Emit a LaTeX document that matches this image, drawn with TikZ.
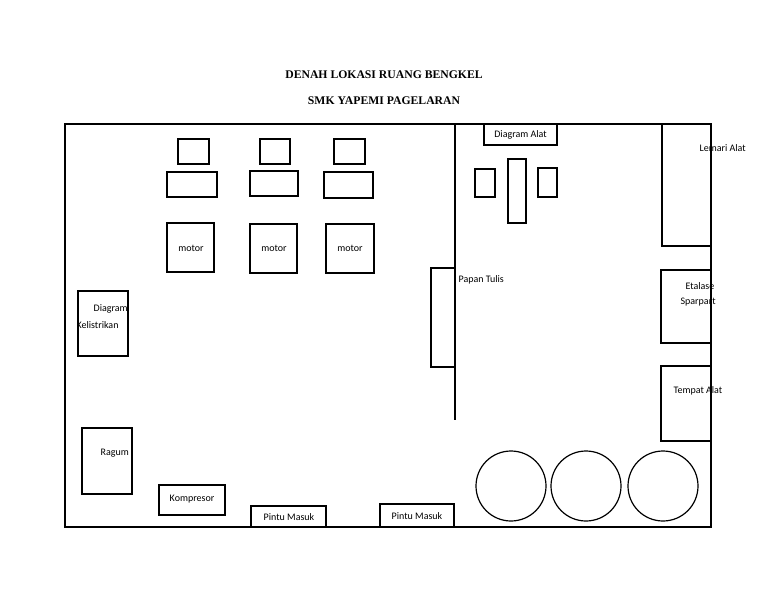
\documentclass[tikz,border=0pt]{standalone}
\usepackage{fontspec}
\setmainfont{Carlito}
\newfontfamily\titlefont{Liberation Serif}
\begin{document}
\begin{tikzpicture}[x=1pt,y=-1pt,line width=1.2pt,
  box/.style={draw,black},
  lbl/.style={font=\fontsize{10}{12}\selectfont,inner sep=0pt}]
\useasboundingbox (0,0) rectangle (768,594);
\node[font=\titlefont\bfseries\fontsize{11.7}{14}\selectfont] (t1) at (384,75) {DENAH LOKASI RUANG BENGKEL};
\node[font=\titlefont\bfseries\fontsize{11.7}{14}\selectfont] (t2) at (384,101) {SMK YAPEMI PAGELARAN};
\draw[box] (65,124) rectangle (711,527);
\draw (455,124) -- (455,420);
\draw[box] (178,139) rectangle (209,164);
\draw[box] (260,139) rectangle (290,164);
\draw[box] (334,139) rectangle (365,164);
\draw[box] (167,172) rectangle (217,197);
\draw[box] (250,171) rectangle (298,196);
\draw[box] (324,172) rectangle (373,198);
\draw[box] (167,223) rectangle (214,272); \node[lbl] (m1) at (191,248) {motor};
\draw[box] (250,224) rectangle (297,273); \node[lbl] (m2) at (274,248) {motor};
\draw[box] (326,224) rectangle (374,273); \node[lbl] (m3) at (350,248) {motor};
\draw[box] (78,291) rectangle (128,356);
\node[lbl,anchor=west] (dk1) at (93,309) {Diagram};
\node[lbl,anchor=west] (dk2) at (76,325) {Kelistrikan};
\draw[box] (82,428) rectangle (132,494); \node[lbl,anchor=west] (rg) at (100,453) {Ragum};
\draw[box] (159,485) rectangle (225,515); \node[lbl] (kp) at (192,499) {Kompresor};
\draw[box] (251,506) rectangle (326,527); \node[lbl] (pm1) at (289,517) {Pintu Masuk};
\draw[box] (380,504) rectangle (454,527); \node[lbl] (pm2) at (417,516) {Pintu Masuk};
\draw[box] (431,268) rectangle (455,367); \node[lbl,anchor=west] (pt) at (458,280) {Papan Tulis};
\draw[box] (484,124) rectangle (557,145); \node[lbl] (da) at (520.5,135) {Diagram Alat};
\draw[box] (475,169) rectangle (495,197);
\draw[box] (508,159) rectangle (526,223);
\draw[box] (538,168) rectangle (557,197);
\draw[box] (662,124) rectangle (711,246); \node[lbl,anchor=west] (la) at (699,148) {Lemari Alat};
\draw[box] (661,270) rectangle (711,343);
\node[lbl,anchor=west] (es1) at (685,286) {Etalase};
\node[lbl,anchor=west] (es2) at (680,302) {Sparpart};
\draw[box] (661,366) rectangle (711,441); \node[lbl,anchor=west] (ta) at (673,391) {Tempat Alat};
\draw[box] (511,486) circle (35);
\draw[box] (586,486) circle (35);
\draw[box] (663,486) circle (35);
\end{tikzpicture}
\end{document}
